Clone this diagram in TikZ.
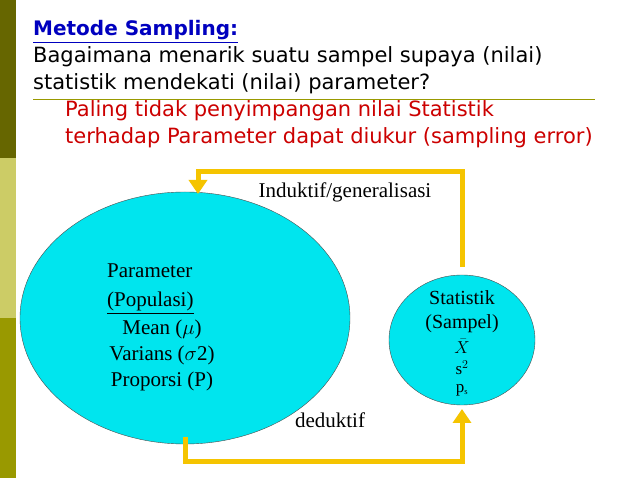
\documentclass[tikz,border=0pt]{standalone}
\usetikzlibrary{shapes.geometric,arrows.meta}
\usepackage{fontspec}
\setmainfont{Liberation Serif}
\newfontfamily\vfont{DejaVu Sans}
\begin{document}
\begin{tikzpicture}[x=1pt,y=-1pt,
  conn/.style={draw=gold,line width=5pt,-{Triangle[length=14pt,width=18pt]}},
  blob/.style={draw=black!70,fill=cyanfill,ellipse},
  lbl/.style={font=\fontsize{21}{23}\selectfont, inner sep=0pt},
  hd/.style={anchor=base west,inner sep=0pt,font=\vfont\fontsize{21}{24}\selectfont}]
\definecolor{gold}{HTML}{F5C400}
\definecolor{cyanfill}{HTML}{00E5EE}
\definecolor{olA}{HTML}{666600}
\definecolor{olB}{HTML}{CCCC66}
\definecolor{olC}{HTML}{999900}
\useasboundingbox (0,0) rectangle (638,478);
\fill[white] (0,0) rectangle (638,478);
\fill[olA] (0,0) rectangle (16,158);
\fill[olB] (0,158) rectangle (16,318);
\fill[olC] (0,318) rectangle (16,478);
\node[hd,text=blue!75!black,font=\vfont\bfseries\fontsize{20}{24}\selectfont] (t) at (33,36) {\underline{Metode Sampling:}};
\node[hd] (l1) at (33,63) {Bagaimana menarik suatu sampel supaya (nilai)};
\node[hd] (l2) at (33,90) {statistik mendekati (nilai) parameter?};
\draw[olC,line width=1pt] (33,100) -- (595,100);
\node[hd,text=red!80!black] (r1) at (65,117) {Paling tidak penyimpangan nilai Statistik};
\node[hd,text=red!80!black] (r2) at (65,144) {terhadap Parameter dapat diukur (sampling error)};
\path (185,318) node[blob,minimum width=330pt,minimum height=252pt] (P) {};
\path (462,340) node[blob,minimum width=146pt,minimum height=130pt] (S) {};
\node[lbl,anchor=base west] (p1) at (107,278) {Parameter};
\node[lbl,anchor=base west] (p2) at (107,307) {\underline{(Populasi)}};
\node[lbl] (p3) at (162,329) {Mean ($\mathrm{\mu}$)};
\node[lbl] (p4) at (162,355) {Varians ($\sigma$2)};
\node[lbl] (p5) at (162,381) {Proporsi (P)};
\node[lbl,font=\fontsize{20}{22}\selectfont] (s1) at (462,298) {Statistik};
\node[lbl,font=\fontsize{20}{22}\selectfont] (s2) at (462,324) {(Sampel)};
\node[lbl,font=\fontsize{17}{19}\selectfont] (s3) at (462,346) {$\bar X$};
\node[lbl,font=\fontsize{17}{19}\selectfont] (s4) at (462,368) {s$^2$};
\node[lbl,font=\fontsize{17}{19}\selectfont] (s5) at (462,390) {p$_{\scriptscriptstyle\mathrm s}$};
\node[lbl] (ind) at (345,192) {Induktif/generalisasi};
\node[lbl] (ded) at (330,420) {deduktif};
\coordinate (a1) at (462,172);
\coordinate (a2) at (198,172);
\coordinate (b1) at (185,462);
\coordinate (b2) at (462,462);
\draw[conn] (S.north) ++(0,-8) -- (a1) -- (a2) -- (198,194);
\draw[conn] (185,437) -- (b1) -- (b2) -- (462,409);
\end{tikzpicture}
\end{document}
